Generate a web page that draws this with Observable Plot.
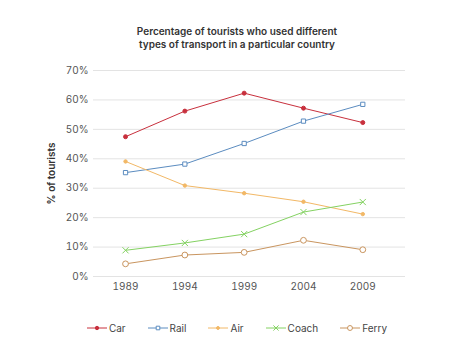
<!DOCTYPE html>
<html>
<head>
<meta charset="utf-8">
<script src="https://cdn.jsdelivr.net/npm/d3@7"></script>
<script src="https://cdn.jsdelivr.net/npm/@observablehq/plot@0.6"></script>
<style>
  html, body { margin: 0; padding: 0; background: #fff; }
  body { width: 474px; height: 355px; font-family: Inter, "Noto Sans", sans-serif; position: relative; overflow: hidden; }
  #title { position: absolute; top: 25px; left: 0; width: 474px; text-align: center; font-size: 10px; font-weight: 600; line-height: 13px; color: #333; }
  #chart { position: absolute; top: 55px; left: 0; }
  #legend { position: absolute; top: 320px; left: 0; width: 474px; display: flex; justify-content: center; gap: 22px; font-size: 10px; color: #444; }
  .item { display: flex; align-items: center; gap: 2px; height: 16px; }
</style>
</head>
<body>
<div id="title">Percentage of tourists who used different<br>types of transport in a particular country</div>
<div id="chart"></div>
<div id="legend"></div>
<script>
const years = [1989, 1994, 1999, 2004, 2009];
const seriesNames = ["Car", "Rail", "Air", "Coach", "Ferry"];
const car   = [47.5, 56.2, 62.3, 57.2, 52.3];
const rail  = [35.3, 38.2, 45.2, 52.8, 58.5];
const air   = [39.1, 30.9, 28.3, 25.4, 21.2];
const coach = [8.9, 11.4, 14.4, 21.9, 25.3];
const ferry = [4.3, 7.3, 8.2, 12.3, 9.1];
const yTicks = [0, 10, 20, 30, 40, 50, 60, 70];

const colors  = {Car: "#c8303d", Rail: "#5b8cc0", Air: "#f2b866", Coach: "#84d262", Ferry: "#c9955f"};
const symbols = {Car: "circle", Rail: "square", Air: "circle", Coach: "times", Ferry: "circle"};
const filled  = {Car: true, Rail: false, Air: true, Coach: false, Ferry: false};
const rsize   = {Car: 2.0, Rail: 2.4, Air: 1.7, Coach: 2.9, Ferry: 2.9};

const valuesBy = {Car: car, Rail: rail, Air: air, Coach: coach, Ferry: ferry};
const data = seriesNames.flatMap(s => years.map((yr, i) => ({series: s, year: yr, value: valuesBy[s][i]})));

const marks = [
  Plot.ruleY(yTicks, {stroke: "#e3e3e3", strokeWidth: 1}),
  Plot.axisY({ticks: yTicks, tickSize: 0, tickPadding: 5, tickFormat: d => d + "%", fontSize: 10, color: "#555",
    label: "% of tourists", labelAnchor: "center", labelArrow: "none", labelOffset: 46}),
  Plot.axisX({ticks: years, tickSize: 0, tickPadding: 6, tickFormat: d => String(d), fontSize: 10, color: "#555", label: null}),
];
for (const s of seriesNames) {
  const d = data.filter(r => r.series === s);
  marks.push(Plot.line(d, {x: "year", y: "value", stroke: colors[s], strokeWidth: 1}));
  marks.push(Plot.dot(d, {x: "year", y: "value", symbol: symbols[s], r: rsize[s],
    stroke: colors[s], strokeWidth: 1, fill: filled[s] ? colors[s] : "#fff"}));
}

const chart = Plot.plot({
  width: 474,
  height: 245,
  marginTop: 15,
  marginBottom: 24,
  marginLeft: 93,
  marginRight: 69,
  style: {fontFamily: "Inter, 'Noto Sans', sans-serif", background: "transparent"},
  x: {type: "linear", domain: [1986.3, 2012.6]},
  y: {domain: [0, 70]},
  marks
});
document.getElementById("chart").append(chart);
const lab = chart.querySelectorAll("g[aria-label='y-axis label'] text, g[aria-label='y-axis label']");
lab.forEach(el => { el.style.fontWeight = "600"; el.style.fill = "#333"; });

// legend
const legend = d3.select("#legend");
for (const s of seriesNames) {
  const it = legend.append("div").attr("class", "item");
  const sv = it.append("svg").attr("width", 20).attr("height", 10);
  sv.append("line").attr("x1", 0).attr("x2", 20).attr("y1", 5).attr("y2", 5).attr("stroke", colors[s]).attr("stroke-width", 1);
  const sym = (symbols[s] === "times" ? d3.symbolTimes : symbols[s] === "square" ? d3.symbolSquare : d3.symbolCircle);
  const rr = rsize[s] * 0.85;
  sv.append("path").attr("transform", "translate(10,5)")
    .attr("d", d3.symbol(sym, Math.PI * rr * rr)())
    .attr("stroke", colors[s]).attr("stroke-width", 1)
    .attr("fill", filled[s] ? colors[s] : "#fff");
  it.append("span").text(s);
}
</script>
</body>
</html>
